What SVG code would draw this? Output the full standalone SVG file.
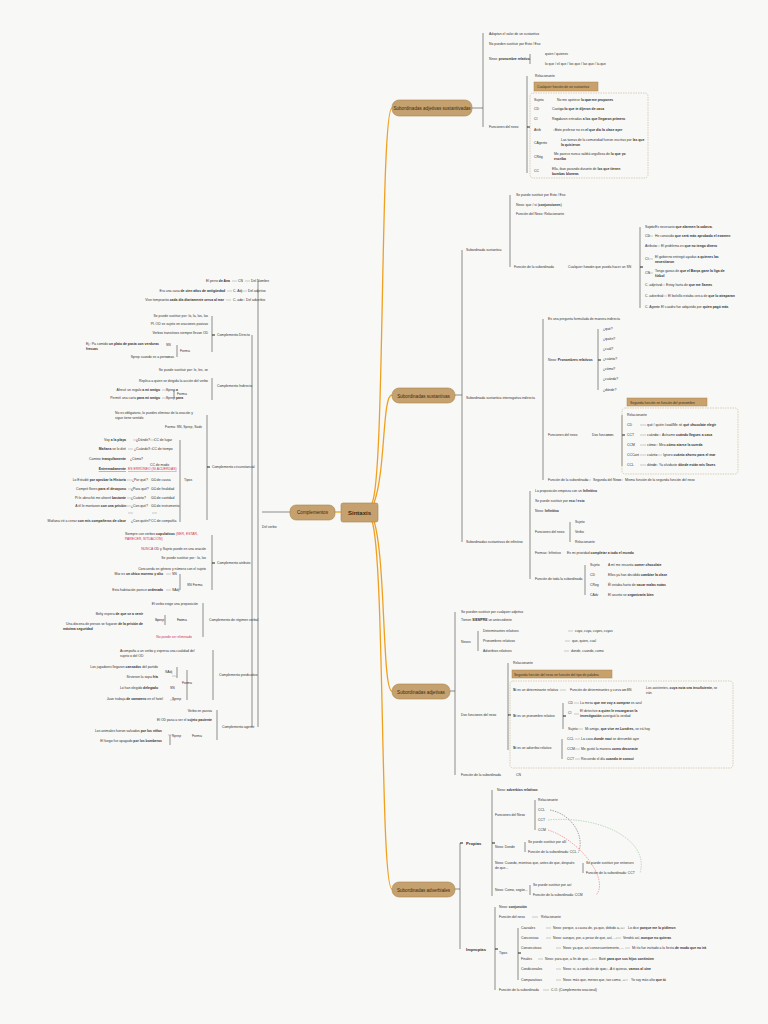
<svg xmlns="http://www.w3.org/2000/svg" width="768" height="1024" viewBox="0 0 768 1024">
<style>
text{font-family:"Liberation Sans",Arial,sans-serif;fill:#333}
.t{font-size:3.4px}
.e{text-anchor:end}
.b{font-weight:bold}
.r{fill:#d2334a}
.n{font-size:4.6px;fill:#3a2a10}
.l{fill:none;stroke:#444;stroke-width:.6}
.k{fill:none;stroke:#222;stroke-width:1.2}
.s{stroke:#999;stroke-width:.5}
.o{fill:none;stroke:#f0a020;stroke-width:1.3}
.box{fill:#c4a16e;stroke:#a8844f;stroke-width:.6}
.hl{fill:#c9a26b;stroke:#a8844f;stroke-width:.5}
.d{fill:none;stroke:#c8b48a;stroke-width:.6;stroke-dasharray:1.5 1}
</style>
<rect width="768" height="1024" fill="#f8f8f6"/>
<g id="connectors">
<path class="o" d="M372 503 C385 480,380 108,392 108"/>
<path class="o" d="M374 503 C386 470,382 395,392 395"/>
<path class="o" d="M374 521 C386 560,382 691,392 691"/>
<path class="o" d="M372 521 C385 560,380 889,392 889"/>
<path class="o" d="M341 512 H335"/>
<path class="l" d="M290 512 H262 M258 281 V727 M483 33 V127 M470 108 H483 M462 250 V542 M462 395 H440 M455 612 V775 M450 691 H455 M460 843 V949 M450 889 H460"/>
<path class="l" d="M510 195 V267 M640 227 V308 M543 319 V480 M598 329 V390 M622 415 V466 M530 491 V579 M570 522 V542 M585 565 V595 M478 631 V651 M508 663 V750 M563 703 V729 M562 739 V759 M492 790 V896 M535 800 V830 M525 842 V852 M583 863 V873 M530 885 V895 M495 907 V990 M518 928 V980 M530 54 V64 M527 76 V173"/>
<path class="l" d="M252 335 V727 M212 316 V352 M212 378 V400 M207 415 V520 M212 535 V590 M203 603 V637 M213 650 V700 M217 710 V740 M177 345 V357 M174 390 V398 M180 440 V522 M180 574 V590 M165 615 V625 M187 670 V700 M170 735 V745 M177 667 V678"/>
<path class="k" d="M640 267 h3 M598 360 h3 M622 435 h3 M508 715 h3 M563 716 h3 M460 843 h3 M492 843 h3 M495 949 h3 M518 953 h3 M527 127 h3 M212 335 h3 M207 467 h3 M212 563 h3"/>
<path class="s" d="M584 100 h8 M560 109 h6 M555 119 h6 M553 130 h6 M592 267 h-5 M648 227 h5 M648 236 h5 M655 246 h5 M648 259 h5 M648 273 h5 M660 285 h5 M662 296 h5 M654 307 h5 M612 435 h-6 M640 425 h6 M665 425 h6 M640 435 h6 M655 435 h6 M640 445 h6 M652 445 h6 M640 455 h6 M656 455 h6 M640 465 h6 M652 465 h6 M586 480 h5 M617 480 h6 M568 631 h5 M565 641 h5 M564 651 h5 M560 690 h6 M622 690 h6 M574 703 h5 M574 714 h5 M578 729 h5 M575 739 h5 M575 749 h5 M575 759 h5 M532 917 h6 M546 928 h5 M620 928 h5 M546 938 h5 M616 938 h5 M556 948 h5 M625 948 h5 M538 959 h5 M592 959 h5 M556 969 h5 M603 969 h5 M556 980 h5 M623 980 h5 M543 990 h6 M232 281 h5 M245 281 h5 M227 291 h5 M242 291 h5 M226 300 h5 M240 300 h5 M165 357 h5 M162 390 h5 M162 398 h5 M150 440 h5 M133 440 h5 M148 449 h5 M128 449 h5 M152 480 h5 M127 480 h5 M152 489 h5 M128 489 h5 M152 498 h5 M127 498 h5 M152 506 h5 M126 506 h5 M152 513 h5 M128 513 h5 M166 574 h5 M166 590 h5 M178 620 h5 M155 620 h5 M172 676 h5 M170 700 h5 M168 735 h5"/>
<path d="M550 810 C575 815,585 840,578 853" fill="none" stroke="#555" stroke-width=".5" stroke-dasharray="1.5 1"/>
<path d="M548 820 C600 815,650 840,640 873" fill="none" stroke="#8b8" stroke-width=".5" stroke-dasharray="1.5 1"/>
<path d="M548 830 C580 840,610 880,596 895" fill="none" stroke="#e55" stroke-width=".5" stroke-dasharray="1.5 1"/>
</g>
<g id="sintaxis"><rect class="box" x="341" y="503" width="37" height="19" rx="2"/><text x="359.5" y="514.5" text-anchor="middle" class="b" style="font-size:6px;fill:#3a2a10">Sintaxis</text></g>
<g id="complementos"><rect class="box" x="290" y="505" width="45" height="15" rx="6"/><text x="312.5" y="514" text-anchor="middle" class="n">Complementos</text></g>
<g id="adj-sustantivadas"><rect class="box" x="392" y="100" width="80" height="16" rx="7"/><text x="432" y="110" text-anchor="middle" class="n">Subordinadas adjetivas sustantivadas</text>
<text class="t" x="489" y="35">Adoptan el valor de un sustantivo</text>
<text class="t" x="489" y="45">No pueden sustituir por Esto / Eso</text>
<text class="t" x="489" y="60">Nexo: <tspan class="b">pronombre relativo</tspan></text>
<text class="t" x="545" y="55">quien / quienes</text>
<text class="t" x="545" y="65">lo que / el que / los que / las que / la que</text>
<text class="t" x="489" y="128">Funciones del nexo</text>
<text class="t" x="535" y="77">Relacionante</text>
<rect class="hl" x="534" y="82" width="64" height="9"/><text class="t" x="537" y="88">Cualquier función de un sustantivo</text>
<rect class="d" x="530" y="93" width="118" height="85" rx="3"/>
<text class="t" x="534" y="101">Sujeto</text><text class="t" x="557" y="101">No me apetece <tspan class="b">lo que me propones</tspan></text>
<text class="t" x="534" y="110">CD</text><text class="t" x="552" y="110">Castiga <tspan class="b">lo que te dijeron de casa</tspan></text>
<text class="t" x="534" y="120">CI</text><text class="t" x="552" y="120">Regalaron entradas <tspan class="b">a los que llegaron primero</tspan></text>
<text class="t" x="534" y="131">Atrib</text><text class="t" x="555" y="131">Este profesor no es <tspan class="b">el que dio la clase ayer</tspan></text>
<text class="t" x="534" y="144">CAgente</text><text class="t" x="561" y="141">Las tareas de la comunidad fueron escritas por <tspan class="b">las que</tspan></text><text class="t b" x="561" y="146">la quisieron</text>
<text class="t" x="534" y="158">CRég</text><text class="t" x="554" y="155">Me parece nunca saldrá orgullosa de <tspan class="b">lo que yo</tspan></text><text class="t b" x="554" y="160">escriba</text>
<text class="t" x="534" y="172">CC</text><text class="t" x="552" y="170">Ella, iban parando durante de <tspan class="b">los que tienen</tspan></text><text class="t b" x="552" y="175">bombas bloneas</text>
</g>
<g id="sustantivas"><rect class="box" x="392" y="388" width="63" height="15" rx="7"/><text x="423.5" y="397.5" text-anchor="middle" class="n">Subordinadas sustantivas</text>
<text class="t" x="466" y="251">Subordinada sustantiva</text>
<text class="t" x="516" y="196">Se puede sustituir por Esto / Eso</text>
<text class="t" x="516" y="206">Nexo: que / si (<tspan class="b">conjunciones</tspan>)</text>
<text class="t" x="516" y="215">Función del Nexo: Relacionante</text>
<text class="t" x="514" y="268">Función de la subordinada</text>
<text class="t" x="568" y="268">Cualquier función que pueda hacer un SN</text>
<text class="t" x="645" y="228">Sujeto</text><text class="t" x="655" y="228">Es necesario <tspan class="b">que alarmen la cabeza.</tspan></text>
<text class="t" x="645" y="237">CD</text><text class="t" x="655" y="237">He conocido <tspan class="b">que será más aprobado el examen</tspan></text>
<text class="t" x="645" y="247">Atributo</text><text class="t" x="661" y="247">El problema es <tspan class="b">que no tengo dinero</tspan></text>
<text class="t" x="645" y="260">CI</text><text class="t" x="655" y="258">El gobierno entregó ayudas <tspan class="b">a quienes las</tspan></text><text class="t b" x="655" y="263">necesitaron</text>
<text class="t" x="645" y="274">CN</text><text class="t" x="655" y="272">Tengo ganas de <tspan class="b">que el Barça gane la liga de</tspan></text><text class="t b" x="655" y="277">fútbol</text>
<text class="t" x="645" y="286">C. adjetival</text><text class="t" x="666" y="286">Estoy harta de <tspan class="b">que me llames</tspan></text>
<text class="t" x="645" y="297">C. adverbial</text><text class="t" x="668" y="297">El bolsillo estaba cerca de <tspan class="b">que lo atraparan</tspan></text>
<text class="t" x="645" y="308">C. Agente</text><text class="t" x="661" y="308">El cuadro fue adquirido por <tspan class="b">quien pagó más</tspan></text>
<text class="t" x="466" y="399">Subordinada sustantiva interrogativa indirecta</text>
<text class="t" x="548" y="320">Es una pregunta formulada de manera indirecta</text>
<text class="t" x="548" y="361">Nexo: <tspan class="b">Pronombres relativos</tspan></text>
<text class="t" x="603" y="330">¿qué?</text><text class="t" x="603" y="340">¿quién?</text><text class="t" x="603" y="350">¿cuál?</text><text class="t" x="603" y="360">¿cuánto?</text><text class="t" x="603" y="370">¿cómo?</text><text class="t" x="603" y="380">¿cuándo?</text><text class="t" x="603" y="391">¿dónde?</text>
<text class="t" x="548" y="436">Funciones del nexo</text><text class="t" x="592" y="436">Dos funciones</text>
<rect class="hl" x="627" y="398" width="80" height="8"/><text class="t" x="630" y="403.5">Segunda función en función del pronombre</text>
<rect class="d" x="622" y="408" width="116" height="66" rx="3"/>
<text class="t" x="627" y="416">Relacionante</text>
<text class="t" x="627" y="426">CD</text><text class="t" x="647" y="426">qué / quién / cuál</text><text class="t" x="673" y="426">Me sé <tspan class="b">qué chocolate elegir</tspan></text>
<text class="t" x="627" y="436">CCT</text><text class="t" x="647" y="436">cuándo</text><text class="t" x="662" y="436">Avísame <tspan class="b">cuándo llegues a casa</tspan></text>
<text class="t" x="627" y="446">CCM</text><text class="t" x="647" y="446">cómo</text><text class="t" x="659" y="446">Mira <tspan class="b">cómo atarse la cuerda</tspan></text>
<text class="t" x="627" y="456">CCCant</text><text class="t" x="647" y="456">cuánto</text><text class="t" x="663" y="456">Ignoro <tspan class="b">cuánto ahorro para el mar</tspan></text>
<text class="t" x="627" y="466">CCL</text><text class="t" x="647" y="466">dónde</text><text class="t" x="659" y="466">Ya olvidaste <tspan class="b">dónde están mis llaves</tspan></text>
<text class="t" x="548" y="481">Función de la subordinada</text><text class="t" x="593" y="481">Segunda del Nexo</text><text class="t" x="625" y="481">Misma función de la segunda función del nexo</text>
<text class="t" x="466" y="543">Subordinadas sustantivas de infinitivo</text>
<text class="t" x="535" y="492">La proposición empieza con un <tspan class="b">Infinitivo</tspan></text>
<text class="t" x="535" y="502">Se puede sustituir por <tspan class="b">eso / esto</tspan></text>
<text class="t" x="535" y="512">Nexo: <tspan class="b">Infinitivo</tspan></text>
<text class="t" x="535" y="533">Funciones del nexo</text>
<text class="t" x="575" y="523">Sujeto</text><text class="t" x="575" y="533">Verbo</text><text class="t" x="575" y="543">Relacionante</text>
<text class="t" x="535" y="554">Formas: Infinitivo</text><text class="t" x="567" y="554">Es mi prioridad <tspan class="b">completar a todo el mundo</tspan></text>
<text class="t" x="535" y="580">Función de toda la subordinada</text>
<text class="t" x="590" y="566">Sujeto</text><text class="t" x="608" y="566">A mí me encanta <tspan class="b">comer chocolate</tspan></text>
<text class="t" x="590" y="576">CD</text><text class="t" x="608" y="576">Ellos ya han decidido <tspan class="b">cambiar la clase</tspan></text>
<text class="t" x="590" y="586">CReg</text><text class="t" x="608" y="586">Él estaba harto de <tspan class="b">sacar malas notas</tspan></text>
<text class="t" x="590" y="596">CAdv</text><text class="t" x="608" y="596">El asunto se <tspan class="b">organizaría bien</tspan></text>
</g>
<g id="adjetivas"><rect class="box" x="392" y="684" width="58" height="15" rx="7"/><text x="421" y="693.5" text-anchor="middle" class="n">Subordinadas adjetivas</text>
<text class="t" x="461" y="613">Se pueden sustituir por cualquier adjetivo</text>
<text class="t" x="461" y="621">Tienen <tspan class="b">SIEMPRE</tspan> un antecedente</text>
<text class="t" x="461" y="643">Nexos</text>
<text class="t" x="483" y="632">Determinantes relativos</text><text class="t" x="575" y="632">cuyo, cuya, cuyos, cuyas</text>
<text class="t" x="483" y="642">Pronombres relativos</text><text class="t" x="572" y="642">que, quien, cual</text>
<text class="t" x="483" y="652">Adverbios relativos</text><text class="t" x="571" y="652">donde, cuando, como</text>
<text class="t" x="461" y="716">Dos funciones del nexo</text>
<text class="t" x="513" y="664">Relacionante</text>
<rect class="hl" x="512" y="670" width="100" height="8"/><text class="t" x="514" y="675.5">Segunda función del nexo en función del tipo de palabra</text>
<rect class="d" x="510" y="681" width="223" height="87" rx="3"/>
<text class="t" x="513" y="691"><tspan class="b">Si</tspan> es un determinante relativo</text><text class="t" x="570" y="691">Función de determinantes y curva un SN</text><text class="t" x="646" y="689">Los asistentes, <tspan class="b">cuya nota sea insuficiente,</tspan> se</text><text class="t" x="646" y="694">irán</text>
<text class="t" x="513" y="717"><tspan class="b">Si</tspan> es un pronombre relativo</text>
<text class="t" x="568" y="704">CD</text><text class="t" x="580" y="704">La mesa <tspan class="b">que me voy a comprar</tspan> es azul</text>
<text class="t" x="568" y="714">CI</text><text class="t" x="580" y="712">El detective <tspan class="b">a quien le encargaron la</tspan></text><text class="t" x="580" y="717"><tspan class="b">investigación</tspan> averiguó la verdad</text>
<text class="t" x="568" y="730">Sujeto</text><text class="t" x="585" y="730">Mi amigo, <tspan class="b">que vive en Londres,</tspan> se irá hoy</text>
<text class="t" x="513" y="749"><tspan class="b">Si</tspan> es un adverbio relativo</text>
<text class="t" x="567" y="740">CCL</text><text class="t" x="581" y="740">La casa <tspan class="b">donde nací</tspan> se derrumbó ayer</text>
<text class="t" x="567" y="750">CCM</text><text class="t" x="581" y="750">Me gustó la manera <tspan class="b">como decoraste</tspan></text>
<text class="t" x="567" y="760">CCT</text><text class="t" x="581" y="760">Recuerdo el día <tspan class="b">cuando te conocí</tspan></text>
<text class="t" x="461" y="776">Función de la subordinada</text><text class="t" x="516" y="776">CN</text>
</g>
<g id="adverbiales"><rect class="box" x="392" y="882" width="63" height="15" rx="7"/><text x="423.5" y="891.5" text-anchor="middle" class="n">Subordinadas adverbiales</text>
<text class="t b" x="466" y="845" style="font-size:4.2px">Propias</text>
<text class="t" x="497" y="791">Nexo: <tspan class="b">adverbios relativos</tspan></text>
<text class="t" x="495" y="816">Funciones del Nexo</text>
<text class="t" x="538" y="801">Relacionante</text><text class="t" x="538" y="811">CCL</text><text class="t" x="538" y="821">CCT</text><text class="t" x="538" y="831">CCM</text>
<text class="t" x="495" y="848">Nexo: Donde</text>
<text class="t" x="528" y="843">Se puede sustituir por allí</text><text class="t" x="528" y="853">Función de la subordinada: CCL</text>
<text class="t" x="495" y="864">Nexo: Cuando, mientras que, antes de que, después</text><text class="t" x="495" y="869">de que...</text>
<text class="t" x="586" y="864">Se puede sustituir por entonces</text><text class="t" x="586" y="874">Función de la subordinada: CCT</text>
<text class="t" x="495" y="891">Nexo: Como, según...</text>
<text class="t" x="533" y="886">Se puede sustituir por así</text><text class="t" x="533" y="896">Función de la subordinada: CCM</text>
<text class="t b" x="466" y="951" style="font-size:4.2px">Impropias</text>
<text class="t" x="499" y="908">Nexo: <tspan class="b">conjunción</tspan></text>
<text class="t" x="499" y="918">Función del nexo</text><text class="t" x="541" y="918">Relacionante</text>
<text class="t" x="499" y="954">Tipos</text>
<text class="t" x="521" y="929">Causales</text><text class="t" x="553" y="929">Nexo: porque, a causa de, ya que, debido a, ...</text><text class="t" x="628" y="929">Lo dice <tspan class="b">porque me lo pidieron</tspan></text>
<text class="t" x="521" y="939">Concesivas</text><text class="t" x="553" y="939">Nexo: aunque, por, a pesar de que, así, ...</text><text class="t" x="623" y="939">Vendrá así, <tspan class="b">aunque no quieras</tspan></text>
<text class="t" x="521" y="949">Consecutivas</text><text class="t" x="563" y="949">Nexo: ya que, así consecuentemente, ...</text><text class="t" x="632" y="949">Mi tío fue invitado a la fiesta <tspan class="b">de modo que no irá</tspan></text>
<text class="t" x="521" y="960">Finales</text><text class="t" x="545" y="960">Nexo: para que, a fin de que, ...</text><text class="t" x="599" y="960">Boté <tspan class="b">para que sus hijos continúen</tspan></text>
<text class="t" x="521" y="970">Condicionales</text><text class="t" x="563" y="970">Nexo: si, a condición de que, ...</text><text class="t" x="610" y="970">A ti quieras, <tspan class="b">vamos al cine</tspan></text>
<text class="t" x="521" y="981">Comparativas</text><text class="t" x="563" y="981">Nexo: más que, menos que, tan como, ...</text><text class="t" x="631" y="981">Yo soy más alto <tspan class="b">que tú</tspan></text>
<text class="t" x="499" y="991">Función de la subordinada</text><text class="t" x="551" y="991">C.O. (Complemento oracional)</text>
</g>
<g id="complementos-detalle">
<text class="t e" x="230" y="282">El perro <tspan class="b">de Ana</tspan></text><text class="t" x="238" y="282">CN</text><text class="t" x="251" y="282">Del Nombre</text>
<text class="t e" x="225" y="292">Era una casa <tspan class="b">de cien años de antigüedad</tspan></text><text class="t" x="233" y="292">C. Adj</text><text class="t" x="248" y="292">Del adjetivo</text>
<text class="t e" x="224" y="301">Vive tempranito <tspan class="b">cada día diariamente cerca al mar</tspan></text><text class="t" x="233" y="301">C. adv</text><text class="t" x="246" y="301">Del adverbio</text>
<text class="t" x="262" y="528">Del verbo</text>
<text class="t" x="217" y="336">Complemento Directo</text>
<text class="t e" x="208" y="317">Se puede sustituir por: lo, la, los, las</text>
<text class="t e" x="208" y="325">Pl. OD es sujeto en oraciones pasivas</text>
<text class="t e" x="208" y="334">Verbos transitivos siempre llevan OD</text>
<text class="t" x="180" y="352">Forma</text><text class="t" x="166" y="346">SN</text>
<text class="t" x="86" y="345">Ej.: Pa comido <tspan class="b">un plato de pasta con verduras</tspan></text><text class="t b" x="86" y="350">frescas</text>
<text class="t e" x="174" y="358">Sprep cuando es a personas</text>
<text class="t" x="217" y="387">Complemento Indirecto</text>
<text class="t e" x="208" y="371">Se puede sustituir por: le, les, se</text>
<text class="t e" x="208" y="382">Replica a quien se dirigida la acción del verbo</text>
<text class="t" x="177" y="395">Forma</text>
<text class="t e" x="160" y="391">Afrecé un regalo <tspan class="b">a mi amigo</tspan></text><text class="t" x="166" y="391">Sprep <tspan class="b">a</tspan></text>
<text class="t e" x="160" y="399">Permití una carta <tspan class="b">para mi amigo</tspan></text><text class="t" x="166" y="399">Sprep <tspan class="b">para</tspan></text>
<text class="t" x="212" y="468">Complemento circunstancial</text>
<text class="t" x="115" y="414">No es obligatorio, lo puedes eliminar de la oración y</text><text class="t" x="115" y="419">sigue tiene sentido</text>
<text class="t e" x="202" y="428">Forma: SN, Sprep, Sadv</text>
<text class="t" x="184" y="481">Tipos</text>
<text class="t e" x="126" y="441">Voy <tspan class="b">a la playa</tspan></text><text class="t" x="136" y="441">¿Dónde?</text><text class="t" x="154" y="441">CC de lugar</text>
<text class="t e" x="126" y="450"><tspan class="b">Mañana</tspan> se lo diré</text><text class="t" x="134" y="450">¿Cuándo?</text><text class="t" x="152" y="450">CC de tiempo</text>
<text class="t e" x="126" y="460">Camino <tspan class="b">tranquilamente</tspan></text><text class="t" x="130" y="460">¿Cómo?</text><text class="t" x="150" y="466">CC de modo</text>
<text class="t e" x="126" y="470" style="text-decoration:underline"><tspan class="b">Extremadamente</tspan></text><text class="t r" x="128" y="470" style="text-decoration:underline">ES ERRÓNEO (SI ACUERDAS)</text>
<text class="t e" x="126" y="481">Lo Estudié <tspan class="b">por aprobar la Historia</tspan></text><text class="t" x="132" y="481">¿Por qué?</text><text class="t" x="151" y="481">CC de causa</text>
<text class="t e" x="126" y="490">Compré flores <tspan class="b">para el desayuno</tspan></text><text class="t" x="131" y="490">¿Para qué?</text><text class="t" x="151" y="490">CC de finalidad</text>
<text class="t e" x="126" y="499">Pi le abruchó me ahorré <tspan class="b">bastante</tspan></text><text class="t" x="131" y="499">¿Cuánto?</text><text class="t" x="151" y="499">CC de cantidad</text>
<text class="t e" x="126" y="507">A él le montaron <tspan class="b">con una prisión</tspan></text><text class="t" x="131" y="507">¿Con qué?</text><text class="t" x="151" y="507">CC de instrumento</text>
<text class="t e" x="126" y="522">Mañana iré a cenar <tspan class="b">con mis compañeros de clase</tspan></text><text class="t" x="131" y="522">¿Con quién?</text><text class="t" x="151" y="522">CC de compañía</text>
<text class="t" x="217" y="564">Complemento atributo</text>
<text class="t" x="125" y="535">Siempre con verbos <tspan class="b">copulativos</tspan> <tspan class="r">(SER, ESTAR,</tspan></text><text class="t r" x="125" y="540">PARECER, SITUACIÓN)</text>
<text class="t e" x="206" y="550"><tspan class="r">NUNCA</tspan> OD y Sujeto puede en una oración</text>
<text class="t e" x="206" y="559">Se puede sustituir por : lo, los</text>
<text class="t e" x="206" y="570">Concuerda en género y número con el sujeto</text>
<text class="t" x="187" y="586">SN  Forma</text>
<text class="t e" x="163" y="575">Mar es <tspan class="b">un chico moreno y alto</tspan></text><text class="t" x="172" y="575">SN</text>
<text class="t e" x="163" y="591">Esta habitación parece <tspan class="b">ordenada</tspan></text><text class="t" x="172" y="591">SAdj</text>
<text class="t" x="209" y="621">Complemento de régimen verbal</text>
<text class="t e" x="198" y="605">El verbo exige una preposición</text>
<text class="t" x="155" y="621">Sprep</text><text class="t" x="177" y="621">Forma</text>
<text class="t e" x="143" y="615">Belty espera <tspan class="b">de que se a venir</tspan></text>
<text class="t e" x="143" y="625">Una decena de presos se fugaron <tspan class="b">de la prisión de</tspan></text><text class="t b" x="63" y="630">máxima seguridad</text>
<text class="t e r" x="192" y="638">No puede ser eliminado</text>
<text class="t" x="219" y="676">Complemento predicativo</text>
<text class="t" x="120" y="652">Acompaña a un verbo y expresa una cualidad del</text><text class="t" x="120" y="657">sujeto o del OD</text>
<text class="t" x="182" y="684">Forma</text>
<text class="t e" x="158" y="668">Los jugadores llegaron <tspan class="b">cansados</tspan> del partido</text>
<text class="t e" x="158" y="678">Sirvieron la sopa <tspan class="b">fría</tspan></text><text class="t" x="165" y="673">SAdj</text>
<text class="t e" x="158" y="689">Lo han elegido <tspan class="b">delegado</tspan></text><text class="t" x="170" y="689">SN</text>
<text class="t e" x="163" y="700">Juan trabaja <tspan class="b">de camarero</tspan> en el hotel</text><text class="t" x="172" y="700">Sprep</text>
<text class="t" x="222" y="728">Complemento agente</text>
<text class="t e" x="212" y="712">Verbo en pasiva</text>
<text class="t e" x="212" y="721">El OD pasa a ser el <tspan class="b">sujeto paciente</tspan></text>
<text class="t" x="172" y="737">Sprep</text><text class="t" x="192" y="737">Forma</text>
<text class="t e" x="162" y="732">Los animales fueron salvados <tspan class="b">por los niños</tspan></text>
<text class="t e" x="162" y="742">El fuego fue apagado <tspan class="b">por los bomberos</tspan></text>
</g>
</svg>
